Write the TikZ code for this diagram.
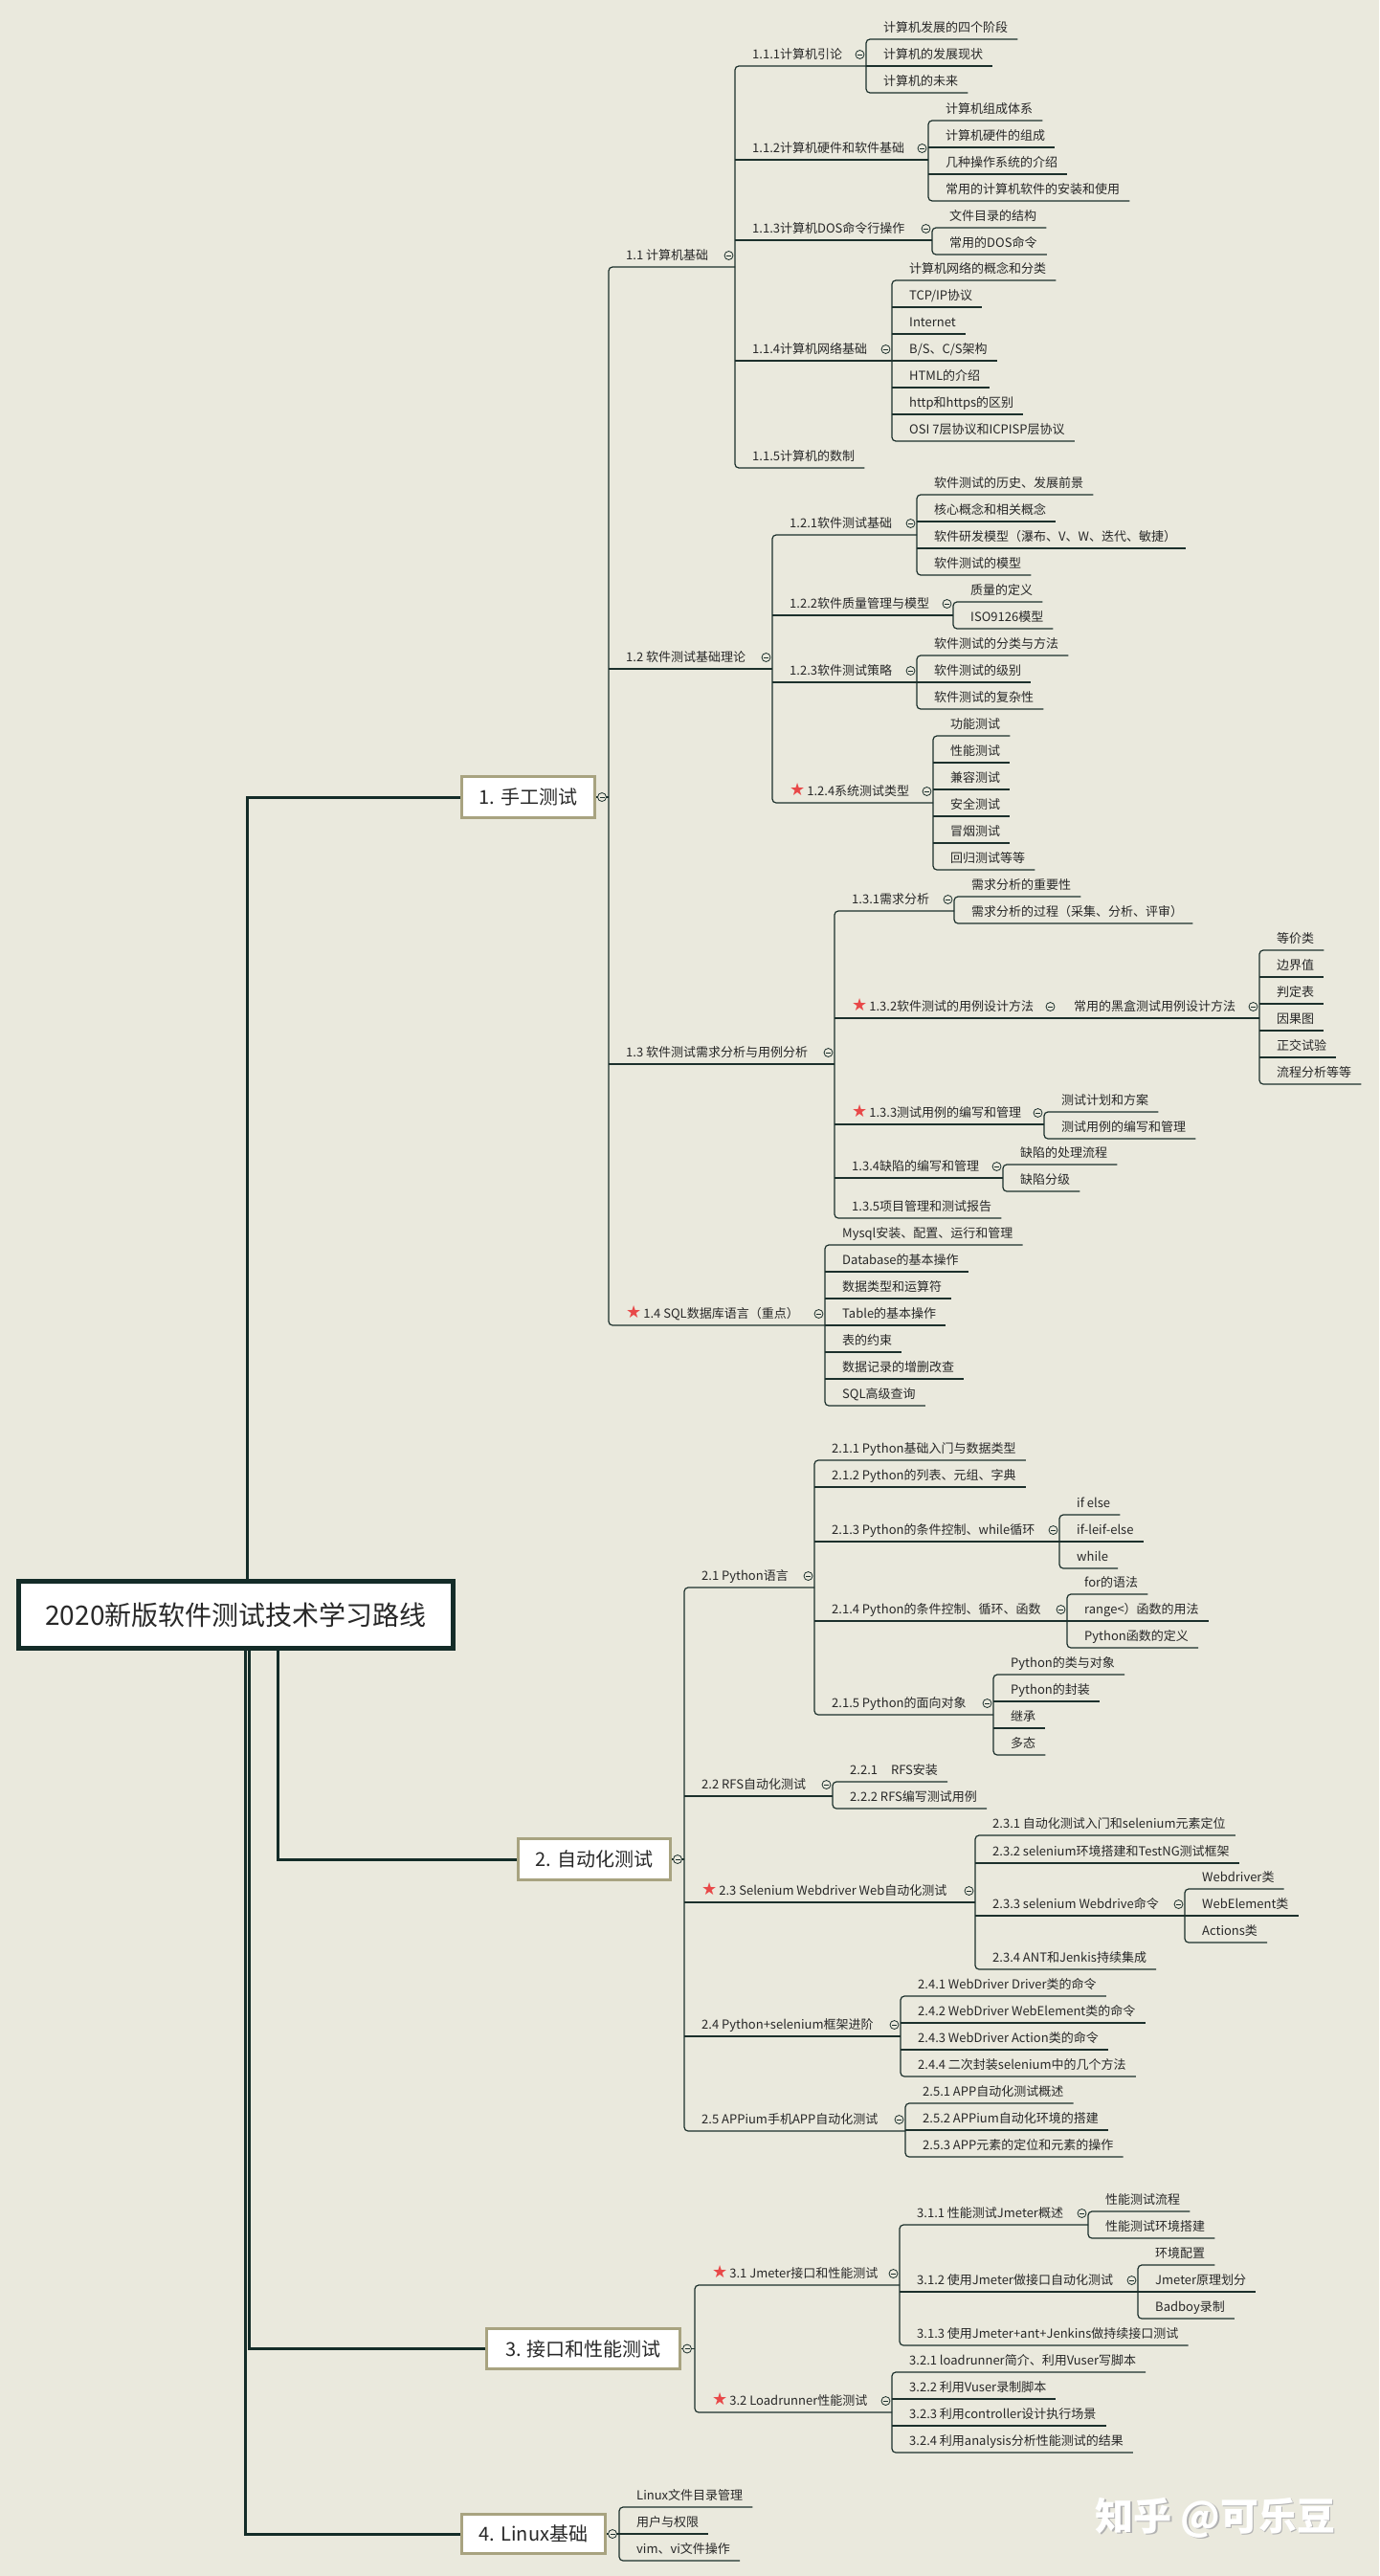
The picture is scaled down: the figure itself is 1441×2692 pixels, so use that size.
\documentclass[tikz,border=0pt]{standalone}
\usepackage{fontspec}
\setmainfont{Noto Sans CJK SC}
\newfontfamily\starfont{DejaVu Sans}
\usetikzlibrary{positioning}
\definecolor{paper}{RGB}{234,233,221}
\definecolor{ink}{RGB}{40,40,40}
\definecolor{wire}{RGB}{28,48,44}
\definecolor{trunkc}{RGB}{20,44,40}
\definecolor{khaki}{RGB}{168,163,128}
\definecolor{starred}{RGB}{232,72,72}
\tikzset{
  topic/.style={anchor=south west, inner xsep=10pt, inner ysep=4pt, text height=10pt, text depth=3pt,
    font=\fontsize{13pt}{15pt}\selectfont, text=ink, execute at begin node=\hspace*{8pt}},
  twig/.style={draw=wire, line width=1.2pt},
  trunk/.style={draw=trunkc, line width=3pt},
  knob/.style={circle, draw=wire, fill=paper, line width=0.8pt, minimum size=9pt, inner sep=0pt,
    path picture={\draw[wire, line width=0.7pt] ([xshift=2pt]path picture bounding box.west) -- ([xshift=-2pt]path picture bounding box.east);}},
  rootbox/.style={draw=trunkc, fill=white, line width=5pt, minimum width=454pt, minimum height=70pt,
    font=\fontsize{28pt}{32pt}\selectfont, text=ink},
  limb/.style={draw=khaki, fill=white, line width=3pt, font=\fontsize{20pt}{24pt}\selectfont, text=ink, inner sep=0pt},
  stamp/.style={font=\fontsize{40pt}{44pt}\selectfont\bfseries},
}
% red star in front of a key topic
\newcommand{\hot}{{\starfont\fontsize{18pt}{18pt}\selectfont\textcolor{starred}{★}}\hspace{2pt}}
% topic with children: name, x, underline y, bracket x, text
\newcommand{\hub}[5]{%
  \node[topic] (#1) at (#2,#3) {#5};
  \coordinate (#1-b) at (#4,#3);
  \node[knob] (#1-k) at ([xshift=-6.5pt,yshift=12pt]#1-b) {};
}
% a column of leaves under one bracket: parent, bracket x, first underline y, texts
\newcommand{\leafs}[4]{%
  \foreach \txt [count=\k] in {#4}{\xdef\nleaf{\k}}
  \foreach \txt [count=\k] in {#4}{
    \node[topic] (#1-\k) at (#2,#3+28*\k-28) {\txt};
    \ifnum\k>1 \ifnum\k<\nleaf
      \draw[twig] (#1-\k.south west) -- (#1-\k.south east);
    \fi\fi
  }
  \draw[twig, rounded corners=4pt] (#1-1.south east) -- (#1-1.south west)
    -- (#1-\nleaf.south west) -- (#1-\nleaf.south east);
}

\begin{document}
\begin{tikzpicture}[x=1pt, y=-1pt]
  \fill[paper] (0,0) rectangle (1441,2692);
  \useasboundingbox (0,0) rectangle (1441,2692);

  % root and main branches
  \node[rootbox] (root) at (246.5,1687.5) {2020新版软件测试技术学习路线};
  \node[limb, minimum width=139pt, minimum height=43pt] (b1) at (552,833) {1. 手工测试};
  \node[limb, minimum width=159pt, minimum height=43pt] (b2) at (621,1943) {2. 自动化测试};
  \node[limb, minimum width=202pt, minimum height=42pt] (b3) at (609.5,2454.5) {3. 接口和性能测试};
  \node[limb, minimum width=150pt, minimum height=41pt] (b4) at (557.5,2648) {4. Linux基础};
  \draw[trunk] ([xshift=11.5pt]root.north) |- (b1.west);
  \draw[trunk] ([xshift=43.5pt]root.south) |- (b2.west);
  \draw[trunk] ([xshift=13.5pt]root.south) |- (b3.west);
  \draw[trunk] ([xshift=9.5pt]root.south) |- (b4.west);

  % 1. manual testing
  \hub{n11}{636}{279}{768}{1.1 计算机基础}
  \hub{n12}{636}{699}{807}{1.2 软件测试基础理论}
  \hub{n13}{636}{1112}{872}{1.3 软件测试需求分析与用例分析}
  \hub{n14}{636}{1385}{862}{\hot 1.4 SQL数据库语言（重点）}
  \draw[twig] (b1.east) -- (b1.east -| n11.south west);
  \node[knob] (b1-k) at ([xshift=6pt]b1.east) {};
  \draw[twig, rounded corners=4pt] (n11-b) -- (n11.south west) -- (n14.south west) -- (n14-b);
  \draw[twig] (n12.south west) -- (n12-b);
  \draw[twig] (n13.south west) -- (n13-b);

  \hub{n111}{768}{69}{905}{1.1.1计算机引论}
  \hub{n112}{768}{167}{970}{1.1.2计算机硬件和软件基础}
  \hub{n113}{768}{251}{974}{1.1.3计算机DOS命令行操作}
  \hub{n114}{768}{377}{932}{1.1.4计算机网络基础}
  \node[topic] (n115) at (768,489) {1.1.5计算机的数制};
  \draw[twig, rounded corners=4pt] (n111-b) -- (n111.south west) -- (n115.south west) -- (n115.south east);
  \draw[twig] (n112.south west) -- (n112-b);
  \draw[twig] (n113.south west) -- (n113-b);
  \draw[twig] (n114.south west) -- (n114-b);
  \leafs{n111}{905}{41}{计算机发展的四个阶段, 计算机的发展现状, 计算机的未来}
  \leafs{n112}{970}{126}{计算机组成体系, 计算机硬件的组成, 几种操作系统的介绍, 常用的计算机软件的安装和使用}
  \leafs{n113}{974}{238}{文件目录的结构, 常用的DOS命令}
  \leafs{n114}{932}{293}{计算机网络的概念和分类, TCP/IP协议, Internet, B/S、C/S架构, HTML的介绍, http和https的区别, OSI 7层协议和ICPISP层协议}

  \hub{n121}{807}{559}{958}{1.2.1软件测试基础}
  \hub{n122}{807}{643}{996}{1.2.2软件质量管理与模型}
  \hub{n123}{807}{713}{958}{1.2.3软件测试策略}
  \hub{n124}{807}{839}{975}{\hot 1.2.4系统测试类型}
  \draw[twig, rounded corners=4pt] (n121-b) -- (n121.south west) -- (n124.south west) -- (n124-b);
  \draw[twig] (n122.south west) -- (n122-b);
  \draw[twig] (n123.south west) -- (n123-b);
  \leafs{n121}{958}{517}{软件测试的历史、发展前景, 核心概念和相关概念, 软件研发模型（瀑布、V、W、迭代、敏捷）, 软件测试的模型}
  \leafs{n122}{996}{629}{质量的定义, ISO9126模型}
  \leafs{n123}{958}{685}{软件测试的分类与方法, 软件测试的级别, 软件测试的复杂性}
  \leafs{n124}{975}{769}{功能测试, 性能测试, 兼容测试, 安全测试, 冒烟测试, 回归测试等等}

  \hub{n131}{872}{952}{997}{1.3.1需求分析}
  \hub{n132}{872}{1064}{1104}{\hot 1.3.2软件测试的用例设计方法}
  \hub{n133}{872}{1175}{1091}{\hot 1.3.3测试用例的编写和管理}
  \hub{n134}{872}{1231}{1048}{1.3.4缺陷的编写和管理}
  \node[topic] (n135) at (872,1273) {1.3.5项目管理和测试报告};
  \draw[twig, rounded corners=4pt] (n131-b) -- (n131.south west) -- (n135.south west) -- (n135.south east);
  \draw[twig] (n132.south west) -- (n132-b);
  \draw[twig] (n133.south west) -- (n133-b);
  \draw[twig] (n134.south west) -- (n134-b);
  \leafs{n131}{997}{937}{需求分析的重要性, 需求分析的过程（采集、分析、评审）}
  \hub{n1321}{1104}{1064}{1316}{常用的黑盒测试用例设计方法}
  \draw[twig] (n1321.south west) -- (n1321-b);
  \leafs{n1321}{1316}{993}{等价类, 边界值, 判定表, 因果图, 正交试验, 流程分析等等}
  \leafs{n133}{1091}{1162}{测试计划和方案, 测试用例的编写和管理}
  \leafs{n134}{1048}{1217}{缺陷的处理流程, 缺陷分级}

  \leafs{n14}{862}{1301}{Mysql安装、配置、运行和管理, Database的基本操作, 数据类型和运算符, Table的基本操作, 表的约束, 数据记录的增删改查, SQL高级查询}

  % 2. automation
  \hub{n21}{715}{1659}{851}{2.1 Python语言}
  \hub{n22}{715}{1877}{870}{2.2 RFS自动化测试}
  \hub{n23}{715}{1988}{1019}{\hot 2.3 Selenium Webdriver Web自动化测试}
  \hub{n24}{715}{2128}{941}{2.4 Python+selenium框架进阶}
  \hub{n25}{715}{2227}{946}{2.5 APPium手机APP自动化测试}
  \draw[twig] (b2.east) -- (b2.east -| n21.south west);
  \node[knob] (b2-k) at ([xshift=6pt]b2.east) {};
  \draw[twig, rounded corners=4pt] (n21-b) -- (n21.south west) -- (n25.south west) -- (n25-b);
  \draw[twig] (n22.south west) -- (n22-b);
  \draw[twig] (n23.south west) -- (n23-b);
  \draw[twig] (n24.south west) -- (n24-b);

  \node[topic] (n211) at (851,1526) {2.1.1 Python基础入门与数据类型};
  \node[topic] (n212) at (851,1554) {2.1.2 Python的列表、元组、字典};
  \hub{n213}{851}{1611}{1107}{2.1.3 Python的条件控制、while循环}
  \hub{n214}{851}{1694}{1115}{2.1.4 Python的条件控制、循环、函数}
  \hub{n215}{851}{1792}{1038}{2.1.5 Python的面向对象}
  \draw[twig, rounded corners=4pt] (n211.south east) -- (n211.south west) -- (n215.south west) -- (n215-b);
  \draw[twig] (n212.south west) -- (n212.south east);
  \draw[twig] (n213.south west) -- (n213-b);
  \draw[twig] (n214.south west) -- (n214-b);
  \leafs{n213}{1107}{1583}{if else, if-leif-else, while}
  \leafs{n214}{1115}{1666}{for的语法, range<）函数的用法, Python函数的定义}
  \leafs{n215}{1038}{1750}{Python的类与对象, Python的封装, 继承, 多态}

  \leafs{n22}{870}{1862}{2.2.1\hspace{14pt}RFS安装, 2.2.2 RFS编写测试用例}

  \node[topic] (n231) at (1019,1918) {2.3.1 自动化测试入门和selenium元素定位};
  \node[topic] (n232) at (1019,1947) {2.3.2 selenium环境搭建和TestNG测试框架};
  \hub{n233}{1019}{2002}{1238}{2.3.3 selenium Webdrive命令}
  \node[topic] (n234) at (1019,2058) {2.3.4 ANT和Jenkis持续集成};
  \draw[twig, rounded corners=4pt] (n231.south east) -- (n231.south west) -- (n234.south west) -- (n234.south east);
  \draw[twig] (n232.south west) -- (n232.south east);
  \draw[twig] (n233.south west) -- (n233-b);
  \leafs{n233}{1238}{1974}{Webdriver类, WebElement类, Actions类}

  \leafs{n24}{941}{2086}{2.4.1 WebDriver Driver类的命令, 2.4.2 WebDriver WebElement类的命令, 2.4.3 WebDriver Action类的命令, 2.4.4 二次封装selenium中的几个方法}
  \leafs{n25}{946}{2198}{2.5.1 APP自动化测试概述, 2.5.2 APPium自动化环境的搭建, 2.5.3 APP元素的定位和元素的操作}

  % 3. interface and performance
  \hub{n31}{726}{2388}{940}{\hot 3.1 Jmeter接口和性能测试}
  \hub{n32}{726}{2521}{932}{\hot 3.2 Loadrunner性能测试}
  \draw[twig] (b3.east) -- (b3.east -| n31.south west);
  \node[knob] (b3-k) at ([xshift=6pt]b3.east) {};
  \draw[twig, rounded corners=4pt] (n31-b) -- (n31.south west) -- (n32.south west) -- (n32-b);

  \hub{n311}{940}{2325}{1137}{3.1.1 性能测试Jmeter概述}
  \hub{n312}{940}{2395}{1189}{3.1.2 使用Jmeter做接口自动化测试}
  \node[topic] (n313) at (940,2451) {3.1.3 使用Jmeter+ant+Jenkins做持续接口测试};
  \draw[twig, rounded corners=4pt] (n311-b) -- (n311.south west) -- (n313.south west) -- (n313.south east);
  \draw[twig] (n312.south west) -- (n312-b);
  \leafs{n311}{1137}{2311}{性能测试流程, 性能测试环境搭建}
  \leafs{n312}{1189}{2367}{环境配置, Jmeter原理划分, Badboy录制}
  \leafs{n32}{932}{2479}{3.2.1 loadrunner简介、利用Vuser写脚本, 3.2.2 利用Vuser录制脚本, 3.2.3 利用controller设计执行场景, 3.2.4 利用analysis分析性能测试的结果}

  % 4. linux
  \leafs{b4}{647}{2620}{Linux文件目录管理, 用户与权限, vim、vi文件操作}
  \draw[twig] (b4.east) -- (b4-2.south west);
  \node[knob] (b4-k) at ([xshift=6pt]b4.east) {};

  % watermark
  \node[stamp, text=gray!60] (wm-s) at (1271.5,2632.5) {知乎 @可乐豆};
  \node[stamp, text=white] (wm) at (1270,2631) {知乎 @可乐豆};
\end{tikzpicture}
\end{document}
